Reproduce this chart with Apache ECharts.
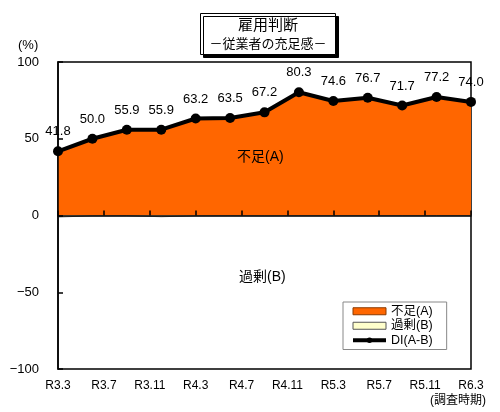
<!DOCTYPE html>
<html>
<head>
<meta charset="utf-8">
<script src="https://cdn.jsdelivr.net/npm/echarts@6/dist/echarts.min.js"></script>
<style>
  html, body { margin: 0; padding: 0; background: #fff; }
  #main { width: 500px; height: 412px; }
</style>
</head>
<body>
<div id="main"></div>
<script>
// survey months counted from R3.3 (every 3 months)
var months = [0, 3, 6, 9, 12, 15, 18, 21, 24, 27, 30, 33, 36];
var shortage = [42.8, 50.2, 56.0, 56.7, 63.4, 63.6, 67.4, 80.4, 74.7, 76.8, 71.8, 77.3, 74.1];
var surplus = [-1.0, -0.2, -0.1, -0.8, -0.2, -0.1, -0.2, -0.1, -0.1, -0.1, -0.1, -0.1, -0.1];
var di = [41.8, 50.0, 55.9, 55.9, 63.2, 63.5, 67.2, 80.3, 74.6, 76.7, 71.7, 77.2, 74.0];
// tick labels every 4 months
var tickLabels = ['R3.3', 'R3.7', 'R3.11', 'R4.3', 'R4.7', 'R4.11', 'R5.3', 'R5.7', 'R5.11', 'R6.3'];

var font = '"Liberation Sans", Arial, "Noto Sans CJK JP", sans-serif';

function pairs(vals) {
    return months.map(function (m, i) { return [m, vals[i]]; });
}

var chart = echarts.init(document.getElementById('main'));

chart.setOption({
    animation: false,
    textStyle: { fontFamily: font },
    title: {
        text: '雇用判断',
        subtext: '－従業者の充足感－',
        left: 259,
        top: 13,
        textAlign: 'center',
        itemGap: 5,
        padding: [5, 9, 4, 9],
        backgroundColor: '#fff',
        borderColor: '#000',
        borderWidth: 1,
        shadowColor: '#000',
        shadowOffsetX: 3,
        shadowOffsetY: 3,
        shadowBlur: 0,
        textStyle: { fontSize: 15, fontWeight: 'normal', color: '#000', fontFamily: font },
        subtextStyle: { fontSize: 13, color: '#000', fontFamily: font }
    },
    legend: {
        orient: 'vertical',
        left: 343,
        top: 302,
        padding: [3, 14, 3, 8],
        itemGap: 2,
        itemWidth: 33,
        itemHeight: 7,
        borderColor: '#888',
        borderWidth: 1,
        backgroundColor: '#fff',
        textStyle: { fontSize: 12.5, color: '#000', fontFamily: font },
        data: [
            { name: '不足(A)', icon: 'rect', itemStyle: { color: '#FF6600', borderColor: '#8a3a00', borderWidth: 1 } },
            { name: '過剰(B)', icon: 'rect', itemStyle: { color: '#FFFFCC', borderColor: '#555', borderWidth: 1 } },
            { name: 'DI(A-B)', itemStyle: { color: '#000' }, lineStyle: { width: 4, color: '#000' } }
        ]
    },
    grid: [{
        left: 58, right: 29, top: 62, bottom: 43,
        show: true,
        borderColor: '#000',
        borderWidth: 1.5
    }, {
        // upper half only: its bottom edge is the zero line
        left: 58, right: 29, top: 62, height: 153.5
    }],
    xAxis: [{
        type: 'value',
        min: 0, max: 36, interval: 4,
        position: 'bottom',
        axisLine: { show: false, onZero: false },
        axisTick: { show: false },
        splitLine: { show: false },
        axisLabel: {
            color: '#000', fontSize: 12, margin: 11,
            formatter: function (v) { return tickLabels[v / 4] || ''; }
        }
    }, {
        gridIndex: 1,
        type: 'value',
        min: 0, max: 36, interval: 4,
        position: 'bottom',
        z: 10,
        axisLine: { show: true, onZero: false, lineStyle: { color: '#000', width: 1.5 } },
        axisTick: { show: true, inside: true, length: 5, lineStyle: { color: '#000', width: 1.5 } },
        axisLabel: { show: false },
        splitLine: { show: false }
    }],
    yAxis: [{
        type: 'value',
        min: -100, max: 100, interval: 50,
        z: 4,
        axisLine: { show: true, lineStyle: { color: '#000', width: 1.5 } },
        axisTick: { show: true, inside: true, length: 5, lineStyle: { color: '#000', width: 1.5 } },
        axisLabel: {
            color: '#000', fontSize: 13, margin: 19,
            formatter: function (v) { return v < 0 ? '−' + (-v) : String(v); }
        },
        splitLine: { show: false }
    }, {
        gridIndex: 1,
        type: 'value',
        min: 0, max: 100,
        show: false
    }],
    graphic: [
        { type: 'text', left: 18, top: 39, z: 10, style: { text: '(%)', fontSize: 13, fill: '#000', fontFamily: font } },
        { type: 'text', left: 430, top: 395, z: 10, style: { text: '(調査時期)', fontSize: 12, fill: '#000', fontFamily: font } },
        { type: 'text', left: 237, top: 150, z: 10, style: { text: '不足(A)', fontSize: 14, fill: '#000', fontFamily: font } },
        { type: 'text', left: 239, top: 270, z: 10, style: { text: '過剰(B)', fontSize: 14, fill: '#000', fontFamily: font } }
    ],
    series: [{
        name: '不足(A)',
        type: 'line',
        data: pairs(shortage),
        symbol: 'none',
        lineStyle: { width: 0 },
        itemStyle: { color: '#FF6600' },
        areaStyle: { color: '#FF6600', opacity: 1 },
        z: 1
    }, {
        name: '過剰(B)',
        type: 'line',
        data: pairs(surplus),
        symbol: 'none',
        lineStyle: { width: 0.8, color: '#555' },
        itemStyle: { color: '#FFFFCC' },
        areaStyle: { color: '#FFFFCC', opacity: 1 },
        z: 1
    }, {
        name: 'DI(A-B)',
        type: 'line',
        data: pairs(di),
        symbol: 'circle',
        symbolSize: 10,
        lineStyle: { width: 4, color: '#000' },
        itemStyle: { color: '#000' },
        label: {
            show: true,
            position: 'top',
            distance: 8,
            fontSize: 13,
            color: '#000',
            formatter: function (p) { return p.value[1].toFixed(1); }
        },
        z: 5
    }]
});
</script>
</body>
</html>
